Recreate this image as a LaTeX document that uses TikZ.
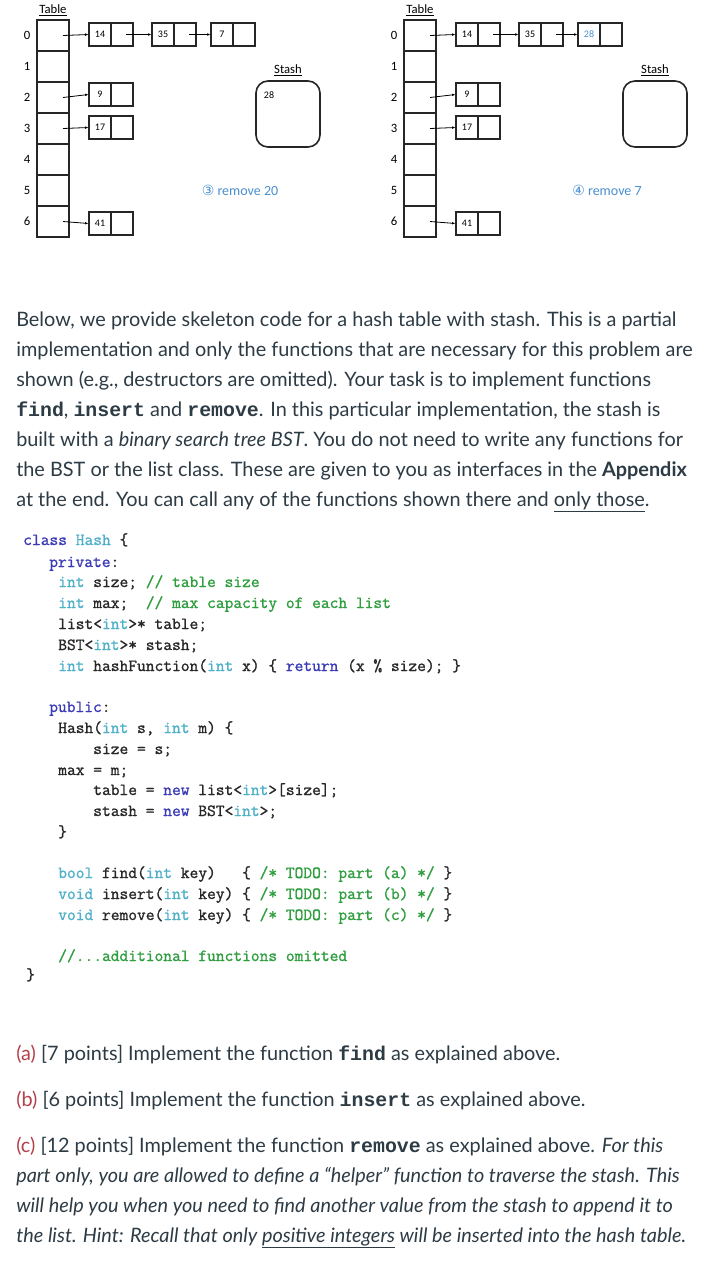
\documentclass[tikz,border=0pt]{standalone}
\usepackage{fontspec}
\setmainfont{Lato}
\setmonofont[FakeBold=1.2]{Latin Modern Mono}
\newfontfamily\dfont{Carlito}
\newfontfamily\dejav{DejaVu Sans}
\newfontfamily\cmono{Liberation Mono}
\usetikzlibrary{calc,arrows.meta}
\definecolor{txt}{HTML}{2D3B45}
\definecolor{kwc}{HTML}{3A3AB8}
\definecolor{tyc}{HTML}{4FB0C8}
\definecolor{cmc}{HTML}{2E9E3E}
\definecolor{lab}{HTML}{B5404A}
\definecolor{blu}{HTML}{4A8FD0}
\newcommand\kw[1]{{\color{kwc}#1}}
\newcommand\ty[1]{{\color{tyc}#1}}
\newcommand\cm[1]{{\color{cmc}#1}}
\newcommand\cd[1]{{\cmono\bfseries #1}}
\newcommand\diag[5]{%
\begin{scope}[xshift=#2*0.75pt]
\node[dtxt,font=\dfont\fontsize{9.5}{10}\selectfont] (#1tl) at (53,10) {\underline{Table}};
\foreach \r in {0,...,6}{
 \node[tcell] (#1t\r) at (53,{35.5+31*\r}) {};
 \node[dtxt,font=\dfont\fontsize{9.5}{10}\selectfont] (#1i\r) at (27,{35.5+31*\r}) {\r};
}
\node[lc] (#1a0) at (100,34.5) {14}; \node[lc] (#1b0) at (122,34.5) {};
\node[lc] (#1c0) at (163,34.5) {35}; \node[lc] (#1d0) at (185,34.5) {};
\node[lc] (#1e0) at (222,34.5) {#3}; \node[lc] (#1f0) at (244,34.5) {};
\node[lc] (#1a2) at (100,94.5) {9}; \node[lc] (#1b2) at (122,94.5) {};
\node[lc] (#1a3) at (100,127.5) {17}; \node[lc] (#1b3) at (122,127.5) {};
\node[lc] (#1a6) at (100,223.5) {41}; \node[lc] (#1b6) at (122,223.5) {};
\foreach \r in {0,2,3,6}{\draw[arr] ($(#1t\r.center)+(10,0)$) -- (#1a\r.west);}
\draw[arr] ($(#1b0.center)+(4,0)$) -- (#1c0.west);
\draw[arr] ($(#1d0.center)+(4,0)$) -- (#1e0.west);
\node[dtxt,font=\dfont\fontsize{9.5}{10}\selectfont] (#1sl) at (288,70) {\underline{Stash}};
\draw[line width=1.2pt,rounded corners=9pt,draw=black!85] (256,81) rectangle (320,147);
\node[dtxt] (#1sc) at (269,95) {#4};
\node[text=blu,font=\dfont\fontsize{10.5}{11}\selectfont] (#1rm) at (240,190) {#5};
\end{scope}}
\begin{document}
\begin{tikzpicture}[x=0.75pt,y=-0.75pt,
 dtxt/.style={inner sep=0pt,font=\dfont\fontsize{7.5}{8}\selectfont},
 tcell/.style={draw=black!85,line width=0.8pt,minimum width=24pt,minimum height=23.25pt,inner sep=0pt},
 lc/.style={draw=black!85,line width=0.8pt,minimum width=16.5pt,minimum height=17.25pt,inner sep=0pt,font=\dfont\fontsize{7.5}{8}\selectfont},
 arr/.style={-{Latex[length=2.5pt,width=2pt]},line width=0.6pt},
 body/.style={anchor=base west,inner sep=0pt,text=txt,font=\fontsize{14.9}{17}\selectfont},
 code/.style={anchor=base west,inner sep=0pt,text=black!85,font=\ttfamily\fontsize{12.75}{14}\selectfont}]
\useasboundingbox[fill=white] (0,0) rectangle (723,1261);
\diag{L}{0}{7}{28}{{\dejav ③} remove 20}
\diag{R}{367}{\textcolor{blu}{28}}{}{{\dejav ④} remove 7}
% paragraph
\node[body] (p1) at (16,326) {Below, we provide skeleton code for a hash table with stash. This is a partial};
\node[body] (p2) at (16,356) {implementation and only the functions that are necessary for this problem are};
\node[body] (p3) at (16,386) {shown (e.g., destructors are omitted). Your task is to implement functions};
\node[body] (p4) at (16,416) {\cd{find}, \cd{insert} and \cd{remove}. In this particular implementation, the stash is};
\node[body] (p5) at (16,446) {built with a \textit{binary search tree BST}. You do not need to write any functions for};
\node[body] (p6) at (16,476) {the BST or the list class. These are given to you as interfaces in the \textbf{Appendix}};
\node[body] (p7) at (16,506) {at the end. You can call any of the functions shown there and \underline{only those}.};
% code
\node[code] (c1) at (23,545) {\kw{class} \ty{Hash} \{};
\node[code] (c2) at (49,567) {\kw{private}:};
\node[code] (c3) at (58,587) {\ty{int} size; \cm{// table size}};
\node[code] (c4) at (58,608) {\ty{int} max;~~\cm{// max capacity of each list}};
\node[code] (c5) at (58,629) {list<\ty{int}>* table;};
\node[code] (c6) at (58,650) {BST<\ty{int}>* stash;};
\node[code] (c7) at (58,671) {\ty{int} hashFunction(\ty{int} x) \{ \kw{return} (x \% size); \}};
\node[code] (c8) at (49,712) {\kw{public}:};
\node[code] (c9) at (58,733) {Hash(\ty{int} s, \ty{int} m) \{};
\node[code] (c10) at (93,754) {size = s;};
\node[code] (c11) at (58,775) {max = m;};
\node[code] (c12) at (93,795) {table = \kw{new} list<\ty{int}>[size];};
\node[code] (c13) at (93,816) {stash = \kw{new} BST<\ty{int}>;};
\node[code] (c14) at (58,837) {\}};
\node[code] (c15) at (58,878) {\ty{bool} find(\ty{int} key)~~~\{ \cm{/* TODO: part (a) */} \}};
\node[code] (c16) at (58,899) {\ty{void} insert(\ty{int} key) \{ \cm{/* TODO: part (b) */} \}};
\node[code] (c17) at (58,920) {\ty{void} remove(\ty{int} key) \{ \cm{/* TODO: part (c) */} \}};
\node[code] (c18) at (58,961) {\cm{//...additional functions omitted}};
\node[code] (c19) at (26,980) {\}};
% questions
\node[body] (qa) at (16,1060) {\textcolor{lab}{(a)} [7 points] Implement the function \cd{find} as explained above.};
\node[body] (qb) at (16,1106) {\textcolor{lab}{(b)} [6 points] Implement the function \cd{insert} as explained above.};
\node[body] (qc1) at (16,1152) {\textcolor{lab}{(c)} [12 points] Implement the function \cd{remove} as explained above. \textit{For this}};
\node[body] (qc2) at (16,1182) {\textit{part only, you are allowed to define a “helper” function to traverse the stash. This}};
\node[body] (qc3) at (16,1212) {\textit{will help you when you need to find another value from the stash to append it to}};
\node[body] (qc4) at (16,1242) {\textit{the list. Hint: Recall that only \underline{positive integers} will be inserted into the hash table.}};
\end{tikzpicture}
\end{document}
